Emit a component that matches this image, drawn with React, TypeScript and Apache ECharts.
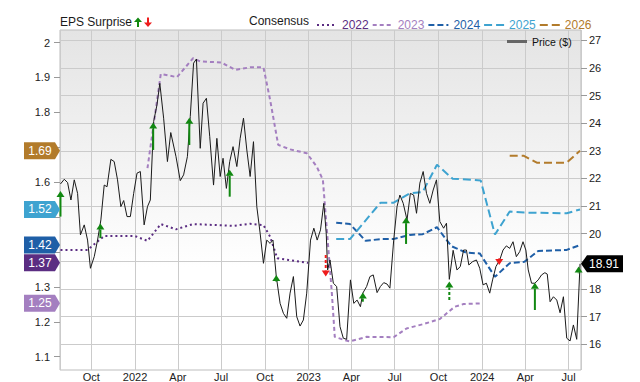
import React, { useEffect, useRef } from 'react';
import * as echarts from 'echarts';

const xStart = '2021-07-27';
const xEnd = '2024-07-27';
const monthLabels = ['Jan', 'Feb', 'Mar', 'Apr', 'May', 'Jun', 'Jul', 'Aug', 'Sep', 'Oct', 'Nov', 'Dec'];
const epsTicks = [1.1, 1.2, 1.3, 1.4, 1.5, 1.6, 1.7, 1.8, 1.9, 2];
const priceTicks = [16, 17, 18, 19, 20, 21, 22, 23, 24, 25, 26, 27];
const epsRange = [1.062, 2.036];
const priceRange = [15.07, 27.37];
const consensusYears = ['2022', '2023', '2024', '2025', '2026'];

const priceDates = [
  '2021-07-28', '2021-08-05', '2021-08-12', '2021-08-19', '2021-08-26', '2021-09-02', '2021-09-08', '2021-09-16',
  '2021-09-23', '2021-09-29', '2021-10-07', '2021-10-14', '2021-10-21', '2021-10-28', '2021-11-03', '2021-11-11',
  '2021-11-18', '2021-11-25', '2021-12-02', '2021-12-08', '2021-12-15', '2021-12-22', '2021-12-29', '2022-01-05',
  '2022-01-12', '2022-01-20', '2022-01-27', '2022-02-02', '2022-02-09', '2022-02-16', '2022-02-22', '2022-03-02',
  '2022-03-10', '2022-03-17', '2022-03-28', '2022-04-06', '2022-04-13', '2022-04-21', '2022-04-27', '2022-05-04',
  '2022-05-10', '2022-05-18', '2022-05-24', '2022-05-31', '2022-06-07', '2022-06-15', '2022-06-22', '2022-06-29',
  '2022-07-05', '2022-07-12', '2022-07-19', '2022-07-26', '2022-08-03', '2022-08-10', '2022-08-17', '2022-08-24',
  '2022-08-31', '2022-09-07', '2022-09-14', '2022-09-21', '2022-09-28', '2022-10-05', '2022-10-12', '2022-10-18',
  '2022-10-25', '2022-11-02', '2022-11-09', '2022-11-16', '2022-11-23', '2022-11-30', '2022-12-07', '2022-12-14',
  '2022-12-21', '2022-12-28', '2023-01-05', '2023-01-12', '2023-01-19', '2023-01-26', '2023-02-02', '2023-02-07',
  '2023-02-10', '2023-02-15', '2023-02-22', '2023-03-01', '2023-03-08', '2023-03-15', '2023-03-22', '2023-03-30',
  '2023-04-06', '2023-04-13', '2023-04-20', '2023-04-25', '2023-05-03', '2023-05-10', '2023-05-17', '2023-05-25',
  '2023-06-01', '2023-06-08', '2023-06-15', '2023-06-21', '2023-06-29', '2023-07-06', '2023-07-12', '2023-07-19',
  '2023-07-27', '2023-08-03', '2023-08-10', '2023-08-16', '2023-08-23', '2023-08-30', '2023-09-06', '2023-09-13',
  '2023-09-20', '2023-09-27', '2023-10-04', '2023-10-12', '2023-10-18', '2023-10-24', '2023-11-01', '2023-11-09',
  '2023-11-16', '2023-11-23', '2023-11-29', '2023-12-04', '2023-12-12', '2023-12-20', '2023-12-27', '2024-01-03',
  '2024-01-10', '2024-01-17', '2024-01-23', '2024-01-30', '2024-02-07', '2024-02-14', '2024-02-21', '2024-02-28',
  '2024-03-06', '2024-03-13', '2024-03-20', '2024-03-27', '2024-04-02', '2024-04-07', '2024-04-14', '2024-04-21',
  '2024-04-28', '2024-05-05', '2024-05-12', '2024-05-17', '2024-05-23', '2024-05-30', '2024-06-06', '2024-06-13',
  '2024-06-20', '2024-06-27', '2024-07-04', '2024-07-11', '2024-07-18', '2024-07-25',
];
const priceValues = [
  21.8, 21.97, 21.85, 21.22, 21.95, 21.46, 19.96, 20.32,
  19.77, 18.75, 19.17, 19.77, 20.5, 21.76, 21.7, 22.69,
  22.61, 21.95, 20.98, 21.2, 20.62, 20.62, 21.46, 22.19,
  22.25, 20.32, 20.98, 21.22, 24.06, 24.66, 25.44, 24.18,
  22.61, 23.66, 22.79, 21.92, 22.13, 22.79, 24.24, 26.17,
  26.32, 23.09, 24.72, 24.9, 23.51, 21.76, 23.45, 22.07,
  22.73, 21.64, 22.61, 23.15, 22.43, 23.45, 24.18, 23.03,
  22.07, 23.33, 20.98, 20.02, 18.93, 19.77, 19.65, 19.77,
  18.45, 17.48, 17.12, 16.94, 17.85, 18.45, 17.0, 16.66,
  16.88, 17.85, 19.77, 20.2, 19.77, 20.14, 21.1, 20.02,
  18.69, 19.05, 18.21, 18.09, 16.64, 16.22, 16.18, 18.33,
  17.48, 17.6, 17.36, 17.85, 18.09, 18.45, 18.51, 17.87,
  18.09, 18.23, 18.18, 18.03, 19.77, 20.98, 21.4, 21.1,
  20.5, 21.46, 21.4, 20.74, 21.83, 22.25, 21.46, 21.1,
  21.58, 21.95, 20.44, 20.2, 20.38, 18.35, 19.4, 18.69,
  18.81, 19.41, 19.41, 18.87, 18.99, 19.05, 18.75, 18.15,
  18.21, 17.85, 18.33, 18.81, 19.05, 19.41, 19.56, 19.47,
  19.71, 19.17, 19.35, 19.71, 19.41, 18.69, 18.21, 18.21,
  18.33, 18.51, 18.59, 18.54, 17.54, 17.72, 17.6, 17.14,
  17.72, 16.22, 16.12, 16.7, 16.18, 18.91,
];

const cons2022: [string, number][] = [
  ['2021-07-28', 1.406], ['2021-09-23', 1.406], ['2021-10-28', 1.446], ['2021-12-31', 1.446],
  ['2022-01-27', 1.432], ['2022-02-24', 1.48], ['2022-03-28', 1.465], ['2022-05-03', 1.48],
  ['2022-07-27', 1.475], ['2022-08-31', 1.481], ['2022-09-28', 1.477], ['2022-10-12', 1.444],
  ['2022-10-27', 1.382], ['2022-11-20', 1.377], ['2022-12-31', 1.369],
];
const cons2023: [string, number][] = [
  ['2022-01-27', 1.64], ['2022-02-24', 1.91], ['2022-03-30', 1.901], ['2022-05-03', 1.955],
  ['2022-05-18', 1.946], ['2022-07-01', 1.943], ['2022-07-31', 1.922], ['2022-08-31', 1.929],
  ['2022-09-28', 1.929], ['2022-10-12', 1.836], ['2022-10-29', 1.707], ['2022-11-23', 1.694],
  ['2022-12-28', 1.683], ['2023-01-18', 1.645], ['2023-01-31', 1.607], ['2023-02-08', 1.47],
  ['2023-02-19', 1.28], ['2023-02-25', 1.157], ['2023-03-17', 1.148], ['2023-03-29', 1.144],
  ['2023-05-03', 1.157], ['2023-06-29', 1.156], ['2023-07-26', 1.181], ['2023-08-29', 1.193],
  ['2023-10-04', 1.208], ['2023-11-04', 1.243], ['2023-11-23', 1.251], ['2023-12-30', 1.253],
];
const cons2024: [string, number][] = [
  ['2023-02-28', 1.484], ['2023-03-29', 1.48], ['2023-05-01', 1.432], ['2023-06-01', 1.437],
  ['2023-06-28', 1.437], ['2023-08-02', 1.449], ['2023-08-29', 1.451], ['2023-09-28', 1.471],
  ['2023-10-28', 1.417], ['2023-11-29', 1.398], ['2023-12-27', 1.396], ['2024-01-28', 1.329],
  ['2024-02-28', 1.368], ['2024-03-30', 1.372], ['2024-04-28', 1.403], ['2024-06-27', 1.406],
  ['2024-07-25', 1.42],
];
const cons2025: [string, number][] = [
  ['2023-02-28', 1.437], ['2023-03-29', 1.437], ['2023-06-01', 1.541], ['2023-06-28', 1.541],
  ['2023-08-02', 1.568], ['2023-08-29', 1.572], ['2023-09-28', 1.65], ['2023-10-31', 1.61],
  ['2023-12-29', 1.605], ['2024-01-28', 1.45], ['2024-02-28', 1.516], ['2024-03-30', 1.513],
  ['2024-06-27', 1.511], ['2024-07-25', 1.522],
];
const cons2026: [string, number][] = [
  ['2024-02-28', 1.676], ['2024-03-28', 1.676], ['2024-04-25', 1.656], ['2024-06-27', 1.656],
  ['2024-07-25', 1.69],
];

const surpriseDates = [
  '2021-07-28', '2021-10-20', '2022-02-08', '2022-04-25', '2022-07-19', '2022-10-25', '2023-02-06',
  '2023-04-25', '2023-07-25', '2023-10-24', '2024-02-06', '2024-04-21', '2024-07-22',
];
const surpriseHead = [21.55, 20.37, 24.02, 24.2, 22.31, 18.51, 18.45, 17.87, 20.6, 18.27, 18.87, 18.23, 18.81];
const surpriseTail = [20.62, 19.84, 23.03, 23.21, 21.34, 18.27, 19.23, 17.54, 19.63, 17.6, 19.11, 17.24, 18.57];
const surpriseDashed = [0, 0, 0, 0, 0, 0, 1, 0, 0, 1, 0, 0, 0];

const consColors = ['#5b2d82', '#a47fc0', '#1f5fa7', '#3ea3d0', '#b27b2b'];
const consDash = [[2, 3], [4, 3], [6, 3], [8, 4], [8, 4]];
const FONT = '"Liberation Sans", Arial, Helvetica, sans-serif';

function ts(d: string): number {
  const p = d.split('-').map(Number);
  return new Date(p[0], p[1] - 1, p[2]).getTime();
}

export default function App() {
  const ref = useRef<HTMLDivElement>(null);
  useEffect(() => {
    if (!ref.current) return;
    const chart = echarts.init(ref.current, undefined, { renderer: 'svg' });
    const t0 = ts(xStart);
    const t1 = ts(xEnd);
    const consData = [cons2022, cons2023, cons2024, cons2025, cons2026];
    const badgeValues = consData.map((arr) => arr[arr.length - 1][1]);
    const lastPrice = priceValues[priceValues.length - 1];

    // axis labels hidden underneath the value badges, as in the reference
    const epsLabels = epsTicks.filter((v) => badgeValues.every((b) => Math.abs(b - v) > 0.035));
    const priceLabels = priceTicks.filter((v) => Math.abs(v - lastPrice) > 0.45);

    const consSeries = consData.map((arr, i) => {
      const last = badgeValues[i];
      return {
        name: consensusYears[i],
        type: 'line',
        yAxisIndex: 0,
        data: arr.map((p) => [ts(p[0]), p[1]]),
        symbol: 'none',
        lineStyle: { color: consColors[i], width: 2, type: consDash[i] },
        itemStyle: { color: consColors[i] },
        z: 3,
        markPoint: {
          silent: true,
          symbol: 'path://M0,0L31,0L36,8.5L31,17L0,17Z',
          symbolSize: [36, 17],
          symbolOffset: [-18, 0],
          symbolKeepAspect: false,
          itemStyle: { color: consColors[i] },
          label: {
            show: true,
            color: '#fff',
            fontSize: 12,
            fontFamily: FONT,
            offset: [-2, 0],
            formatter: () => last.toFixed(2),
          },
          data: [{ coord: [t0, last], value: last }],
          z: 10,
        },
      };
    });

    const option: any = {
      animation: false,
      textStyle: { fontFamily: FONT },
      grid: {
        left: 60,
        right: 59,
        top: 30,
        bottom: 12,
        show: true,
        borderColor: '#bdbdbd',
        borderWidth: 1,
        backgroundColor: {
          type: 'linear', x: 0, y: 0, x2: 0, y2: 1,
          colorStops: [
            { offset: 0, color: '#e4e4e4' },
            { offset: 0.7, color: '#ffffff' },
            { offset: 1, color: '#ffffff' },
          ],
        },
        containLabel: false,
        outerBoundsMode: 'none',
      },
      legend: [
        {
          left: 316,
          top: 14,
          padding: [5, 5, 5, 0],
          itemWidth: 20,
          itemHeight: 10,
          itemGap: 3,
          selectedMode: false,
          itemStyle: { opacity: 0 },
          textStyle: { fontSize: 12, fontFamily: FONT },
          data: consensusYears.map((y, i) => ({ name: y, textStyle: { color: consColors[i] } })),
        },
        {
          left: 507,
          top: 31,
          padding: [5, 5, 5, 0],
          itemWidth: 20,
          itemHeight: 3,
          itemGap: 3,
          selectedMode: false,
          textStyle: { fontSize: 10.5, color: '#111', fontFamily: FONT },
          data: [{ name: 'Price ($)', icon: 'rect', itemStyle: { color: '#666', opacity: 1, borderWidth: 0 } }],
        },
      ],
      graphic: [
        {
          type: 'text', x: 60, y: 22,
          style: { text: 'EPS Surprise', fontSize: 12, fontFamily: FONT, fill: '#1a1a1a', verticalAlign: 'middle' },
        },
        {
          type: 'polygon',
          shape: { points: [[138, 17.5], [142, 22], [139, 22], [139, 27], [137, 27], [137, 22], [134, 22]] },
          style: { fill: '#118811' },
        },
        {
          type: 'polygon',
          shape: { points: [[148, 27], [152, 22.5], [149, 22.5], [149, 17.5], [147, 17.5], [147, 22.5], [144, 22.5]] },
          style: { fill: '#ee1c1c' },
        },
        {
          type: 'text', x: 249, y: 20.5,
          style: { text: 'Consensus', fontSize: 12, fontFamily: FONT, fill: '#1a1a1a', verticalAlign: 'middle' },
        },
      ],
      xAxis: {
        type: 'time',
        min: t0,
        max: t1,
        splitNumber: 12,
        axisLine: { show: false },
        axisTick: { show: false },
        splitLine: { show: true, lineStyle: { color: '#cbcbcb', width: 1 } },
        axisLabel: {
          color: '#222',
          fontSize: 11,
          margin: 1,
          fontFamily: FONT,
          showMinLabel: false,
          showMaxLabel: false,
          hideOverlap: false,
          formatter: (v: number) => {
            const d = new Date(v);
            if (d.getDate() !== 1) return '';
            return d.getMonth() === 0 ? String(d.getFullYear()) : monthLabels[d.getMonth()];
          },
        },
      },
      yAxis: [
        {
          type: 'value',
          position: 'left',
          min: epsRange[0],
          max: epsRange[1],
          axisLine: { show: false },
          axisTick: { show: true, length: 6, lineStyle: { color: '#999' }, customValues: epsTicks },
          axisLabel: {
            color: '#222', fontSize: 11, margin: 10, fontFamily: FONT,
            customValues: epsLabels,
            formatter: (v: number) => String(Math.round(v * 10) / 10),
          },
          splitLine: { show: false },
        },
        {
          type: 'value',
          position: 'right',
          min: priceRange[0],
          max: priceRange[1],
          axisLine: { show: false },
          axisTick: { show: true, length: 6, lineStyle: { color: '#999' }, customValues: priceTicks },
          axisLabel: {
            color: '#222', fontSize: 11, margin: 8, fontFamily: FONT,
            customValues: priceLabels,
          },
          splitLine: { show: true, lineStyle: { color: '#cbcbcb', width: 1 } },
        },
      ],
      series: [
        ...consSeries,
        {
          name: 'Price ($)',
          type: 'line',
          yAxisIndex: 1,
          data: priceDates.map((d, i) => [ts(d), priceValues[i]]),
          symbol: 'none',
          lineStyle: { color: '#1a1a1a', width: 1 },
          itemStyle: { color: '#666' },
          z: 4,
          markPoint: {
            silent: true,
            symbol: 'path://M0,8.5L6,0L42,0L42,17L6,17Z',
            symbolSize: [42, 17],
            symbolOffset: [21, 0],
            symbolKeepAspect: false,
            itemStyle: { color: '#000' },
            label: {
              show: true, color: '#fff', fontSize: 12, fontFamily: FONT, offset: [2, 0],
              formatter: () => lastPrice.toFixed(2),
            },
            data: [{ coord: [t1, lastPrice], value: lastPrice }],
            z: 10,
          },
        },
        {
          name: 'surprise',
          type: 'custom',
          yAxisIndex: 1,
          silent: true,
          z: 6,
          encode: { x: 0, y: [1, 2] },
          data: surpriseDates.map((d, i) => [ts(d), surpriseHead[i], surpriseTail[i], surpriseDashed[i]]),
          renderItem: (params: any, api: any) => {
            const h = api.coord([api.value(0), api.value(1)]);
            const t = api.coord([api.value(0), api.value(2)]);
            const up = api.value(1) > api.value(2);
            const color = up ? '#118811' : '#ee1c1c';
            const dir = up ? 1 : -1;
            const baseY = h[1] + dir * 6;
            const dashed = api.value(3) === 1;
            return {
              type: 'group',
              children: [
                {
                  type: 'line',
                  shape: { x1: t[0], y1: t[1], x2: h[0], y2: baseY },
                  style: { stroke: color, lineWidth: 2, lineDash: dashed ? [3, 2] : null },
                },
                {
                  type: 'polygon',
                  shape: { points: [[h[0], h[1]], [h[0] - 4, baseY], [h[0] + 4, baseY]] },
                  style: { fill: color },
                },
              ],
            };
          },
        },
      ],
    };
    chart.setOption(option);
    return () => chart.dispose();
  }, []);
  return <div ref={ref} style={{ width: 640, height: 382, position: 'absolute', left: 0, top: 0 }} />;
}
